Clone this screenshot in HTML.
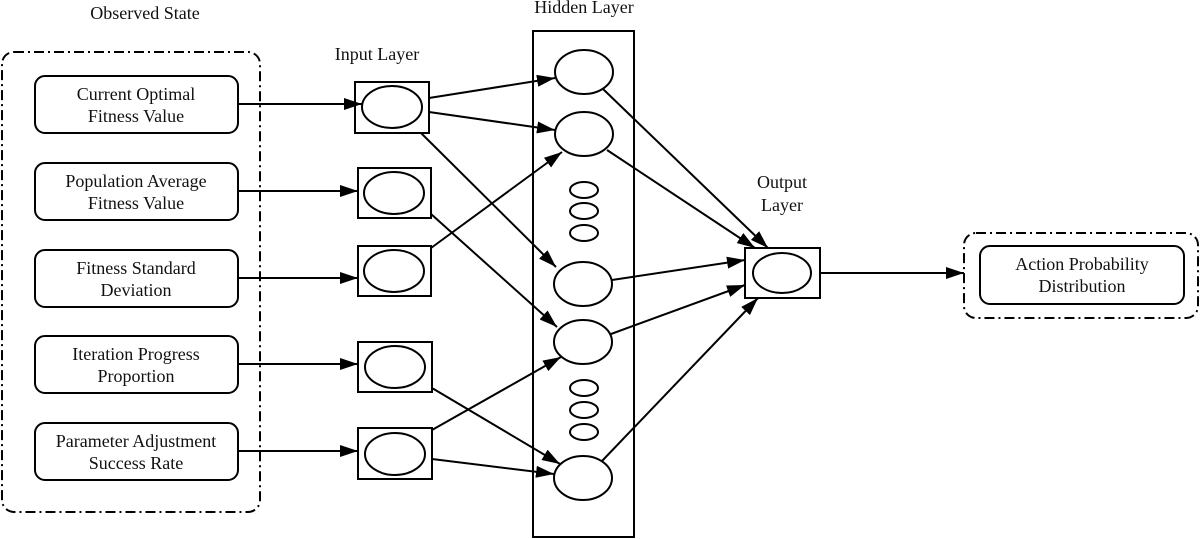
<!DOCTYPE html>
<html><head><meta charset="utf-8"><style>
html,body{margin:0;padding:0;background:#fff;}
svg{display:block;}
text{font-family:"Liberation Serif",serif;font-size:18px;fill:#111;}
</style></head><body>
<svg width="1200" height="539" viewBox="0 0 1200 539" xmlns="http://www.w3.org/2000/svg">
<defs>
<marker id="a" viewBox="0 0 18 12" refX="18" refY="6" markerWidth="18" markerHeight="12" markerUnits="userSpaceOnUse" orient="auto">
<path d="M0,0 L18,6 L0,12 Z" fill="#000"/></marker>
</defs>
<g fill="none" stroke="#000" stroke-width="2">
<rect x="2" y="52" width="258" height="460" rx="12" stroke-dasharray="10,4,2,4"/>
<rect x="35" y="76" width="203" height="57" rx="10"/>
<rect x="35" y="163" width="203" height="57" rx="10"/>
<rect x="35" y="250" width="203" height="57" rx="10"/>
<rect x="35" y="336" width="203" height="57" rx="10"/>
<rect x="35" y="423" width="203" height="57" rx="10"/>
<rect x="355" y="82" width="74" height="51"/><ellipse cx="392" cy="107" rx="30" ry="21"/>
<rect x="358" y="168" width="73" height="50"/><ellipse cx="394" cy="193" rx="30" ry="21"/>
<rect x="358" y="246" width="73" height="50"/><ellipse cx="394" cy="271" rx="30" ry="21"/>
<rect x="358" y="342" width="74" height="50"/><ellipse cx="395" cy="367" rx="30" ry="21"/>
<rect x="358" y="428" width="74" height="51"/><ellipse cx="395" cy="454" rx="30" ry="21"/>
<rect x="533" y="31" width="101" height="506"/>
<ellipse cx="584" cy="72" rx="29" ry="22"/>
<ellipse cx="584" cy="134" rx="29" ry="22"/>
<ellipse cx="584" cy="190" rx="14" ry="8"/>
<ellipse cx="584" cy="211" rx="14" ry="8"/>
<ellipse cx="584" cy="233" rx="14" ry="8"/>
<ellipse cx="583" cy="284" rx="29" ry="22"/>
<ellipse cx="583" cy="342" rx="29" ry="22"/>
<ellipse cx="584" cy="388" rx="14" ry="8"/>
<ellipse cx="584" cy="410" rx="14" ry="8"/>
<ellipse cx="584" cy="432" rx="14" ry="8"/>
<ellipse cx="583" cy="478" rx="29" ry="22"/>
<rect x="745" y="248" width="75" height="50"/><ellipse cx="782" cy="273" rx="29" ry="20"/>
<rect x="964" y="233" width="234" height="85" rx="12" stroke-dasharray="10,4,2,4"/>
<rect x="980" y="246" width="204" height="58" rx="10"/>
</g>
<g stroke="#000" stroke-width="2" fill="none" marker-end="url(#a)">
<line x1="238" y1="104" x2="362" y2="104"/>
<line x1="238" y1="191" x2="358" y2="191"/>
<line x1="238" y1="278" x2="358" y2="278"/>
<line x1="238" y1="364" x2="358" y2="364"/>
<line x1="238" y1="451" x2="358" y2="451"/>
<line x1="429" y1="98" x2="555" y2="78"/>
<line x1="429" y1="112" x2="555" y2="130"/>
<line x1="421" y1="133" x2="556" y2="267"/>
<line x1="431" y1="214" x2="557" y2="327"/>
<line x1="431" y1="248" x2="562" y2="152"/>
<line x1="432" y1="388" x2="560" y2="464"/>
<line x1="432" y1="430" x2="561" y2="357"/>
<line x1="432" y1="459" x2="554" y2="474"/>
<line x1="603" y1="89" x2="768" y2="248"/>
<line x1="607" y1="150" x2="755" y2="248"/>
<line x1="612" y1="280" x2="745" y2="260"/>
<line x1="611" y1="334" x2="745" y2="285"/>
<line x1="602" y1="461" x2="758" y2="298"/>
<line x1="820" y1="273" x2="964" y2="273"/>
</g>
<text x="145" y="19" text-anchor="middle">Observed State</text>
<text x="377" y="60" text-anchor="middle">Input Layer</text>
<text x="584" y="13" text-anchor="middle">Hidden Layer</text>
<text x="782" y="188" text-anchor="middle">Output</text>
<text x="782" y="211" text-anchor="middle">Layer</text>
<text x="136" y="100" text-anchor="middle">Current Optimal</text>
<text x="136" y="122" text-anchor="middle">Fitness Value</text>
<text x="136" y="187" text-anchor="middle">Population Average</text>
<text x="136" y="209" text-anchor="middle">Fitness Value</text>
<text x="136" y="274" text-anchor="middle">Fitness Standard</text>
<text x="136" y="296" text-anchor="middle">Deviation</text>
<text x="136" y="360" text-anchor="middle">Iteration Progress</text>
<text x="136" y="382" text-anchor="middle">Proportion</text>
<text x="136" y="447" text-anchor="middle">Parameter Adjustment</text>
<text x="136" y="469" text-anchor="middle">Success Rate</text>
<text x="1082" y="270" text-anchor="middle">Action Probability</text>
<text x="1082" y="292" text-anchor="middle">Distribution</text>
</svg>
</body></html>
